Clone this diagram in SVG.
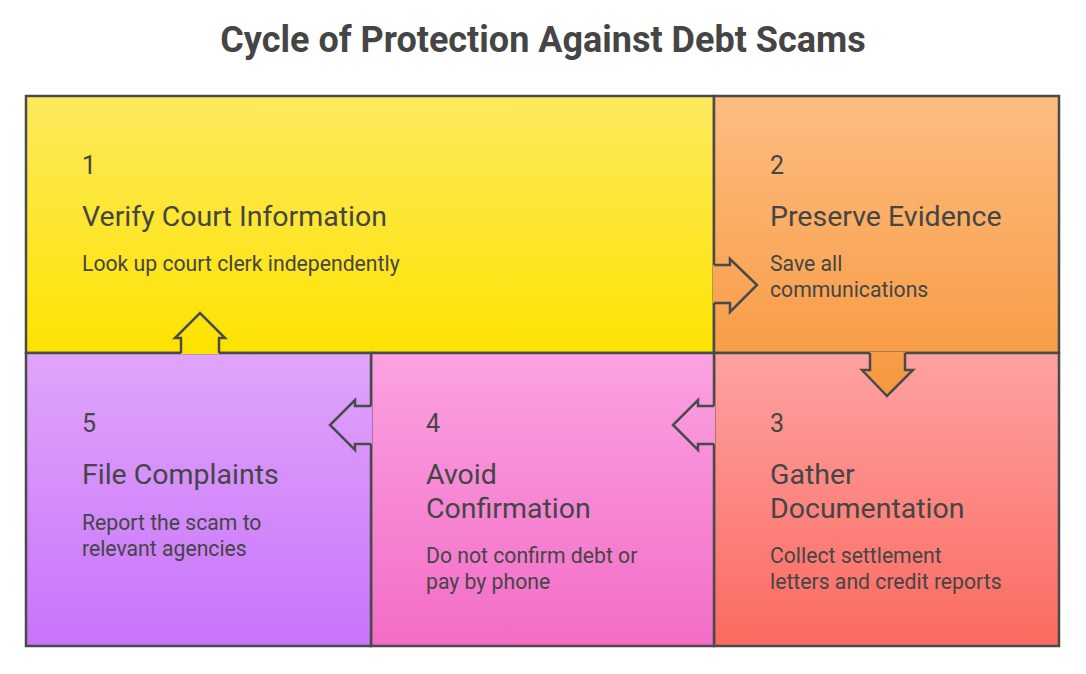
<svg xmlns="http://www.w3.org/2000/svg" width="1086" height="674" viewBox="0 0 1086 674">
<defs>
<linearGradient id="gy" gradientUnits="userSpaceOnUse" x1="0" y1="96" x2="0" y2="353"><stop offset="0" stop-color="#fde95e"/><stop offset="1" stop-color="#fde300"/></linearGradient>
<linearGradient id="go" gradientUnits="userSpaceOnUse" x1="0" y1="96" x2="0" y2="400"><stop offset="0" stop-color="#fdbd80"/><stop offset="1" stop-color="#f7973e"/></linearGradient>
<linearGradient id="gr" gradientUnits="userSpaceOnUse" x1="0" y1="353" x2="0" y2="646"><stop offset="0" stop-color="#fea2a2"/><stop offset="1" stop-color="#fb6a60"/></linearGradient>
<linearGradient id="gp" gradientUnits="userSpaceOnUse" x1="0" y1="353" x2="0" y2="646"><stop offset="0" stop-color="#fba2e2"/><stop offset="1" stop-color="#f36cc6"/></linearGradient>
<linearGradient id="gv" gradientUnits="userSpaceOnUse" x1="0" y1="353" x2="0" y2="646"><stop offset="0" stop-color="#e0a5fa"/><stop offset="1" stop-color="#c873fb"/></linearGradient>
</defs>
<style>
.c{stroke:#4a4a4a;stroke-width:2.5;stroke-linejoin:miter}
.a{stroke:#4a4a4a;stroke-width:2.5;fill:none}
text{font-family:Roboto,"Liberation Sans",sans-serif;fill:#454545}
.n{font-size:25px}.t{font-size:28.5px}.d{font-size:21.2px}
</style>
<text x="543" y="52" text-anchor="middle" style="font-size:36px;font-weight:bold">Cycle of Protection Against Debt Scams</text>
<g id="n1"><rect class="c" x="26" y="96" width="688" height="257" fill="url(#gy)"/>
<text class="n" x="82" y="174">1</text><text class="t" x="82" y="226">Verify Court Information</text><text class="d" x="82" y="271">Look up court clerk independently</text></g>
<g id="n2"><rect class="c" x="714" y="96" width="345" height="257" fill="url(#go)"/>
<text class="n" x="770" y="174">2</text><text class="t" x="770" y="226">Preserve Evidence</text><text class="d" x="770" y="271">Save all</text><text class="d" x="770" y="297">communications</text></g>
<g id="n3"><rect class="c" x="714" y="353" width="345" height="293" fill="url(#gr)"/>
<text class="n" x="770" y="432">3</text><text class="t" x="770" y="484">Gather</text><text class="t" x="770" y="518">Documentation</text><text class="d" x="770" y="563">Collect settlement</text><text class="d" x="770" y="589">letters and credit reports</text></g>
<g id="n4"><rect class="c" x="371" y="353" width="343" height="293" fill="url(#gp)"/>
<text class="n" x="426" y="432">4</text><text class="t" x="426" y="484">Avoid</text><text class="t" x="426" y="518">Confirmation</text><text class="d" x="426" y="563">Do not confirm debt or</text><text class="d" x="426" y="589">pay by phone</text></g>
<g id="n5"><rect class="c" x="26" y="353" width="345" height="293" fill="url(#gv)"/>
<text class="n" x="82" y="432">5</text><text class="t" x="82" y="484">File Complaints</text><text class="d" x="82" y="530">Report the scam to</text><text class="d" x="82" y="556">relevant agencies</text></g>
<g id="connectors">
<polygon points="713,265 730,265 730,259 757,285 730,312 730,303 713,303" fill="url(#go)"/>
<path class="a" d="M714,265 H730 V259 L757,285 L730,312 V303 H714"/>
<polygon points="870,352 870,370 862,370 887,396 913,370 905,370 905,352" fill="url(#go)"/>
<path class="a" d="M870,353 V370 H862 L887,396 L913,370 H905 V353"/>
<polygon points="715,406 698,406 698,400 673,425 698,450 698,444 715,444" fill="url(#gp)"/>
<path class="a" d="M714,406 H698 V400 L673,425 L698,450 V444 H714"/>
<polygon points="372,406 355,406 355,400 330,425 355,450 355,444 372,444" fill="url(#gv)"/>
<path class="a" d="M371,406 H355 V400 L330,425 L355,450 V444 H371"/>
<polygon points="181,354 181,338 175,338 200,313 225,338 219,338 219,354" fill="url(#gy)"/>
<path class="a" d="M181,353 V338 H175 L200,313 L225,338 H219 V353"/>
</g>
</svg>
